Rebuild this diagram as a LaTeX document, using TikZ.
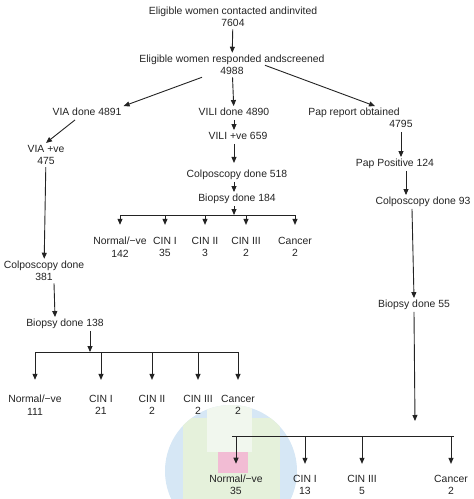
\documentclass[tikz,border=0pt]{standalone}
\usepackage{fontspec}
\setmainfont{Liberation Sans}
\usetikzlibrary{arrows.meta, positioning}
\definecolor{InkDark}{RGB}{35,35,35}
\definecolor{SpotBlue}{RGB}{214,231,245}
\definecolor{SpotGreen}{RGB}{229,241,219}
\definecolor{SpotWhite}{RGB}{241,247,238}
\definecolor{SpotPink}{RGB}{242,188,212}

\begin{document}
\begin{tikzpicture}[x=1pt,y=-1pt,
        lbl/.style={text=InkDark,font=\fontsize{10.4}{12.5}\selectfont,
                    align=center,inner sep=2pt},
        one/.style={lbl,text height=7.5pt,text depth=2pt},
        arr/.style={draw=InkDark,line width=0.9pt,
                    -{Triangle[length=6pt,width=5pt]}},
        bar/.style={draw=InkDark,line width=0.9pt}
      ]
        \useasboundingbox (0,0) rectangle (474,499);
        % faint spot behind the last row
        \begin{scope}
          \clip (231,471) circle (66);
          \fill[SpotBlue] (160,400) rectangle (300,499);
          \fill[SpotGreen] (183,418) rectangle (280,499);
          \fill[SpotWhite] (207,405) rectangle (252,452);
          \fill[SpotPink] (218,452) rectangle (248,473);
        \end{scope}
        % top of the tree
        \node[lbl] (invited) at (233,17) {Eligible women contacted andinvited\\7604};
        \node[lbl] (screened) at (232,65) {Eligible women responded andscreened\\4988};
        \node[one] (via) at (87,113) {VIA done 4891};
        \node[one] (vili) at (234,113) {VILI done 4890};
        \node[one] (pap) at (354,113) {Pap report obtained};
        \node[one] (papn) at (401,125) {4795};
        \draw[arr] (invited) -- (screened);
        \draw[arr] ([xshift=-30pt]screened.south) -- (via.north east);
        \draw[arr] (screened) -- (vili);
        \draw[arr] ([xshift=33pt,yshift=12pt]screened.south) -- ([xshift=21pt]pap.north);
        % VIA branch
        \node[lbl] (viapos) at (46,155) {VIA +ve\\475};
        \node[lbl] (colpoA) at (44,271) {Colposcopy done\\381};
        \node[one] (biopA) at (65,324) {Biopsy done 138};
        \coordinate (lnA) at (90,352);
        \draw[arr] ([xshift=-12pt]via.south) -- (viapos.north);
        \draw[arr] (viapos) -- (colpoA);
        \draw[arr] ([xshift=10pt]colpoA.south) -- ([xshift=-10pt]biopA.north);
        \draw[arr] ([xshift=25pt]biopA.south) -- (lnA);
        \node[lbl] (normA) at (35,405) {Normal/−ve\\111};
        \node[lbl] (cinIA) at (101,405) {CIN I\\21};
        \node[lbl] (cinIIA) at (152,405) {CIN II\\2};
        \node[lbl] (cinIIIA) at (198,405) {CIN III\\2};
        \node[lbl] (cancA) at (238,405) {Cancer\\2};
        \draw[bar] (normA |- lnA) -- (cancA |- lnA);
        \draw[arr,shorten >=13pt] (normA |- lnA) -- (normA.north);
        \draw[arr,shorten >=13pt] (cinIA |- lnA) -- (cinIA.north);
        \draw[arr,shorten >=13pt] (cinIIA |- lnA) -- (cinIIA.north);
        \draw[arr,shorten >=13pt] (cinIIIA |- lnA) -- (cinIIIA.north);
        \draw[arr,shorten >=13pt] (cancA |- lnA) -- (cancA.north);
        % VILI branch
        \node[one] (vilipos) at (238,137) {VILI +ve 659};
        \node[one] (colpoB) at (237,175) {Colposcopy done 518};
        \node[one] (biopB) at (237,199) {Biopsy done 184};
        \coordinate (lnB) at (234,215);
        \draw[arr] (vili.south) -- (vili.south |- vilipos.north);
        \draw[arr] (vili.south |- vilipos.south) -- ++(0,19);
        \draw[arr] (vili.south |- colpoB.south) -- (vili.south |- biopB.north);
        \draw[arr] (vili.south |- biopB.south) -- (lnB);
        \node[lbl] (normB) at (120,247) {Normal/−ve\\142};
        \node[lbl] (cinIB) at (165,247) {CIN I\\35};
        \node[lbl] (cinIIB) at (205,247) {CIN II\\3};
        \node[lbl] (cinIIIB) at (246,247) {CIN III\\2};
        \node[lbl] (cancB) at (295,247) {Cancer\\2};
        \draw[bar] (normB |- lnB) -- (cancB |- lnB);
        \draw[arr,shorten >=10pt] (normB |- lnB) -- (normB.north);
        \draw[arr,shorten >=10pt] (cinIB |- lnB) -- (cinIB.north);
        \draw[arr,shorten >=10pt] (cinIIB |- lnB) -- (cinIIB.north);
        \draw[arr,shorten >=10pt] (cinIIIB |- lnB) -- (cinIIIB.north);
        \draw[arr,shorten >=10pt] (cancB |- lnB) -- (cancB.north);
        % Pap branch
        \node[one] (pappos) at (395,164) {Pap Positive 124};
        \node[one] (colpoC) at (423,202) {Colposcopy done 93};
        \node[one] (biopC) at (414,305) {Biopsy done 55};
        \coordinate (endC) at (415,421);
        \coordinate (lnC) at (232,436);
        \draw[arr] (papn.south) -- (papn.south |- pappos.north);
        \draw[arr] ([xshift=11pt]pappos.south) -- ([xshift=-17pt]colpoC.north);
        \draw[arr] ([xshift=-11pt]colpoC.south) -- (biopC.north);
        \draw[arr] (biopC.south) -- (endC);
        \node[lbl] (normC) at (236,485) {Normal/−ve\\35};
        \node[lbl] (cinIC) at (305,485) {CIN I\\13};
        \node[lbl] (cinIIIC) at (362,485) {CIN III\\5};
        \node[lbl] (cancC) at (451,485) {Cancer\\2};
        \draw[bar] (lnC) -- (454,436);
        \draw[arr,shorten >=9pt] (normC |- lnC) -- (normC.north);
        \draw[arr,shorten >=9pt] (cinIC |- lnC) -- (cinIC.north);
        \draw[arr,shorten >=9pt] (cinIIIC |- lnC) -- (cinIIIC.north);
        \draw[arr,shorten >=9pt] (cancC |- lnC) -- (cancC.north);
      \end{tikzpicture}
\end{document}
